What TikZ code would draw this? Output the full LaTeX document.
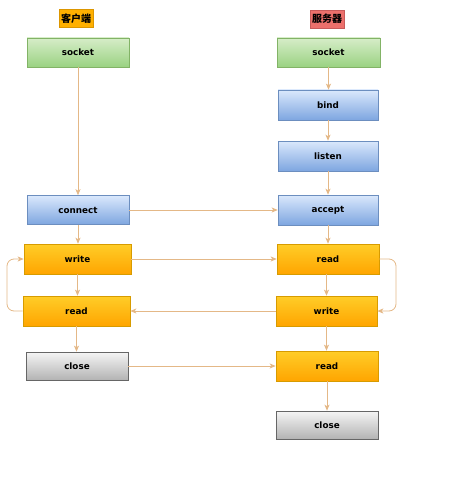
\documentclass[tikz,border=0pt]{standalone}
\usepackage{fontspec}
\setmainfont{DejaVu Sans}
\newfontfamily\cjk{Noto Sans CJK SC}
\usetikzlibrary{arrows.meta}
\definecolor{lnc}{RGB}{228,184,135}
\definecolor{gtop}{RGB}{214,237,200}
\definecolor{gbot}{RGB}{154,210,130}
\definecolor{gbrd}{RGB}{130,179,102}
\definecolor{btop}{RGB}{218,232,252}
\definecolor{bbot}{RGB}{126,166,224}
\definecolor{bbrd}{RGB}{108,142,191}
\definecolor{otop}{RGB}{255,205,40}
\definecolor{obot}{RGB}{255,165,0}
\definecolor{obrd}{RGB}{215,155,0}
\definecolor{ytop}{RGB}{245,245,245}
\definecolor{ybot}{RGB}{179,179,179}
\definecolor{ybrd}{RGB}{102,102,102}
\definecolor{cfill}{RGB}{255,176,0}
\definecolor{cbrd}{RGB}{220,150,0}
\definecolor{sfill}{RGB}{236,112,108}
\definecolor{sbrd}{RGB}{200,90,90}
\tikzset{
  box/.style={minimum width=102pt, minimum height=29pt, inner sep=0pt, font=\bfseries\fontsize{8.8}{10}\selectfont, line width=0.6pt, shading=axis, shading angle=0},
  gbox/.style={box, draw=gbrd, top color=gtop, bottom color=gbot},
  bbox/.style={box, draw=bbrd, top color=btop, bottom color=bbot},
  obox/.style={box, draw=obrd, top color=otop, bottom color=obot},
  ybox/.style={box, draw=ybrd, top color=ytop, bottom color=ybot},
  tag/.style={inner xsep=2pt, inner ysep=1pt, minimum height=18pt, font=\cjk\bfseries\fontsize{10}{11}\selectfont, line width=0.5pt},
  conn/.style={draw=lnc, line width=0.8pt, -{Stealth[length=6pt,width=5pt,inset=1.5pt]}},
}
\begin{document}
\begin{tikzpicture}[x=1pt,y=-1pt]
\useasboundingbox (0,0) rectangle (474,484);
\node[tag, fill=cfill, draw=cbrd] (ct) at (76,18.5) {客户端};
\node[tag, fill=sfill, draw=sbrd] (st) at (327,19) {服务器};
% client
\node[gbox] (cs) at (78,52.5) {socket};
\node[bbox] (cc) at (78,210) {connect};
\node[obox, minimum width=107pt, minimum height=30pt] (cw) at (77.5,259) {write};
\node[obox, minimum width=107pt, minimum height=30pt] (cr) at (76.5,311) {read};
\node[ybox, minimum height=28pt] (ccl) at (77,366) {close};
% server
\node[gbox, minimum width=103pt] (ss) at (328.5,52.5) {socket};
\node[bbox, minimum width=100pt, minimum height=30pt] (sb) at (328,105) {bind};
\node[bbox, minimum width=100pt, minimum height=30pt] (sl) at (328,156) {listen};
\node[bbox, minimum width=100pt, minimum height=30pt] (sa) at (328,210) {accept};
\node[obox, minimum height=30pt] (sr) at (328,259) {read};
\node[obox, minimum width=101pt, minimum height=30pt] (sw) at (326.5,311) {write};
\node[obox, minimum height=30pt] (sr2) at (327,366) {read};
\node[ybox, minimum height=28pt] (scl) at (327,425) {close};
% vertical
\draw[conn] (cs) -- (cc);
\draw[conn] (cc) -- (cc|-cw.north);
\draw[conn] (cw) -- (cw|-cr.north);
\draw[conn] (cr) -- (cr|-ccl.north);
\draw[conn] (ss) -- (ss|-sb.north);
\draw[conn] (sb) -- (sl);
\draw[conn] (sl) -- (sa);
\draw[conn] (sa) -- (sr);
\draw[conn] (sw|-sr.south) -- (sw);
\draw[conn] (sw) -- (sw|-sr2.north);
\draw[conn] (sr2) -- (sr2|-scl.north);
% horizontal
\draw[conn] (cc) -- (sa);
\draw[conn] (cw) -- (sr);
\draw[conn] (sw) -- (cr);
\draw[conn] (ccl) -- (ccl-|sr2.west);
% loops
\draw[conn, rounded corners=7pt] (cr.west) -- (7,311) -- (7,259) -- (cw.west);
\draw[conn, rounded corners=7pt] (sr.east) -- (396,259) -- (396,311) -- (sw.east);
\end{tikzpicture}
\end{document}
